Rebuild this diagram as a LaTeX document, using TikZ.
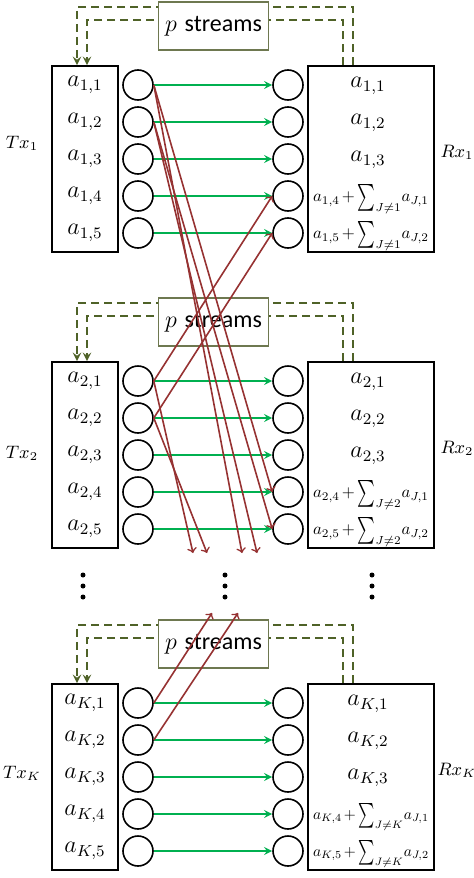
\documentclass[tikz,border=0pt]{standalone}
\usepackage{amsmath,amssymb}
\usepackage{graphicx}
\usepackage{fontspec}
\setsansfont{Carlito}
\usepackage{tikz}
\definecolor{linkgreen}{RGB}{0,176,80}
\definecolor{crossred}{RGB}{150,50,50}
\definecolor{fbolive}{RGB}{79,98,40}
\definecolor{boxolive}{RGB}{110,120,80}
\newcommand{\tallsum}{\mathop{\vcenter{\hbox{\scalebox{1}[1.6]{$\sum$}}}}\nolimits}
\newcommand{\rxsum}[3]{\resizebox{58pt}{!}{$a_{#1,#2}\mkern2mu{+}\tallsum_{J\neq#1}\!a_{J,#3}$}}

\begin{document}
\begin{tikzpicture}[x=0.5pt,y=-0.5pt,>=stealth,
    ant/.style={draw,circle,line width=0.8pt,minimum size=15pt,inner sep=0pt},
    stack/.style={draw,line width=0.8pt,minimum height=93pt},
    direct/.style={->,linkgreen,line width=0.8pt},
    cross/.style={-to,crossred,line width=0.8pt},
    fb/.style={->,fbolive,line width=0.9pt,dash pattern=on 4pt off 2.5pt}]
  \useasboundingbox (0,0) rectangle (474,878);
  \foreach \o/\k/\ty/\ry in {0/1/143/152,296/2/453/448,618/K/773/770}{
    \node[stack,minimum width=33pt] (Tx\k) at (85,\o+159) {};
    \node[stack,minimum width=63pt] (Rx\k) at (371,\o+159) {};
    \draw[fb] (Rx\k.north -| 353,0) |- (77,\o+7) -- (Tx\k.north -| 77,0);
    \draw[fb] (Rx\k.north -| 343,0) |- (87,\o+20) -- (Tx\k.north -| 87,0);
    \node[draw=boxolive,line width=0.8pt,fill=white,minimum width=51.5pt,minimum height=24pt]
      (P\k) at (213.5,\o+26) {\large$p$ \sffamily streams};
    \node (T\k) at (22,\ty) {\small$Tx_\k$};
    \node (X\k) at (457,\ry) {\small$Rx_\k$};
    \foreach \i in {1,...,5}{
      \node (a\k-\i) at (85,\o+48+37*\i) {\large$a_{\k,\i}$};
      \node[ant] (L\k-\i) at (138,\o+48+37*\i) {};
      \node[ant] (R\k-\i) at (288,\o+48+37*\i) {};
      \draw[direct] (L\k-\i) -- (R\k-\i);
    }
    \foreach \i in {1,2,3}
      \node[inner sep=1pt] (b\k-\i) at (368,\o+49+37*\i) {\large$a_{\k,\i}$};
    \node[inner sep=0pt] (b\k-4) at (371,\o+199) {\rxsum{\k}{4}{1}};
    \node[inner sep=0pt] (b\k-5) at (371,\o+236) {\rxsum{\k}{5}{2}};
  }
  % more users below
  \foreach \x in {83,225,372}
    \foreach \y in {575,586,597}
      \fill (\x,\y) circle (1.25pt);
  \coordinate (e1) at (193,553); \coordinate (e2) at (207,553);
  \coordinate (e3) at (242,553); \coordinate (e4) at (257,553);
  \coordinate (u1) at (212,613); \coordinate (u2) at (238,613);
  \draw[cross] (L1-1.east) -- (R2-4.west); \draw[cross] (L1-1.east) -- (e3);
  \draw[cross] (L1-2.east) -- (R2-5.west); \draw[cross] (L1-2.east) -- (e4);
  \draw[cross] (L2-1.east) -- (R1-4.west); \draw[cross] (L2-1.east) -- (e1);
  \draw[cross] (L2-2.east) -- (R1-5.west); \draw[cross] (L2-2.east) -- (e2);
  \draw[cross] (LK-1.east) -- (u1); \draw[cross] (LK-2.east) -- (u2);
\end{tikzpicture}
\end{document}
